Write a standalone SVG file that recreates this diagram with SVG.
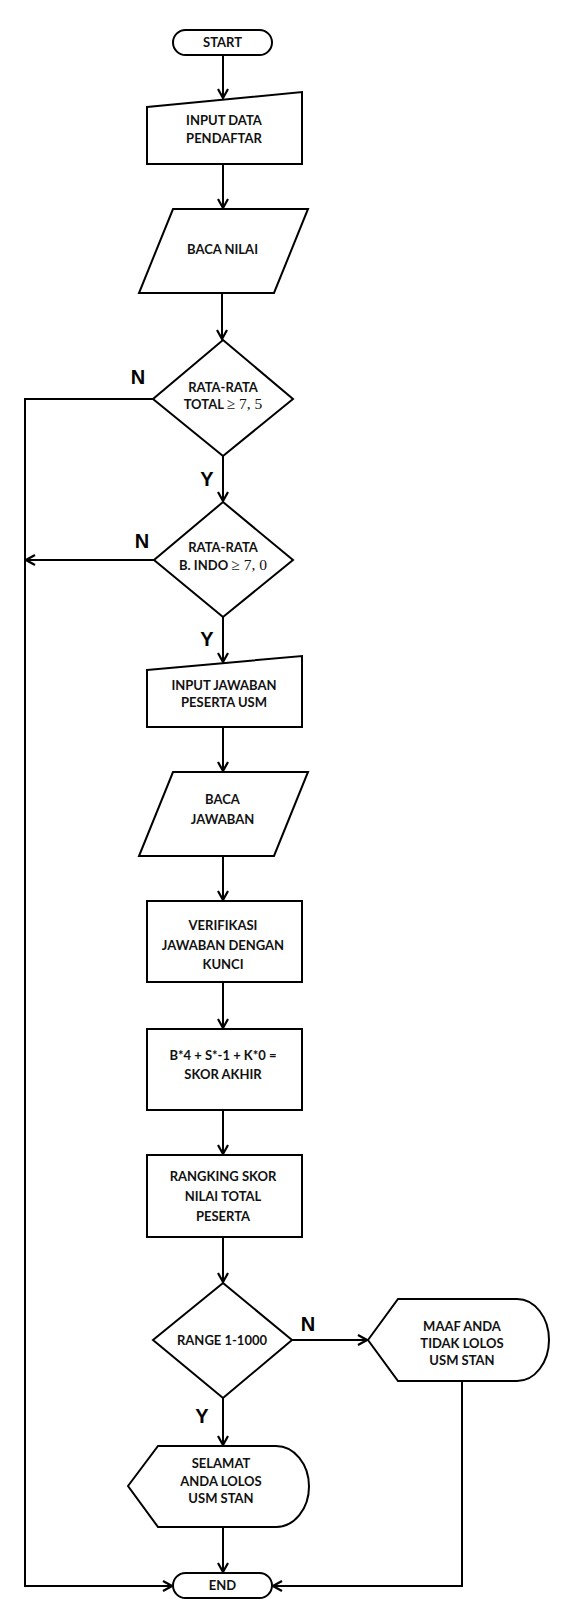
<svg xmlns="http://www.w3.org/2000/svg" width="574" height="1600" viewBox="0 0 574 1600">
<defs>
<marker id="arr" markerUnits="userSpaceOnUse" markerWidth="14" markerHeight="14" viewBox="-12 -7 14 14" refX="0" refY="0" orient="auto">
<path d="M-9,-5 L0,0 L-9,5" fill="none" stroke="#000" stroke-width="2.2"/>
</marker>
</defs>
<style>
.s{fill:#fff;stroke:#000;stroke-width:2}
.c{fill:none;stroke:#000;stroke-width:2}
.t{font-family:Lato,"Liberation Sans",sans-serif;font-weight:bold;font-size:13px;fill:#111;text-anchor:middle}
.m{font-family:"Liberation Serif","DejaVu Serif",serif;font-weight:normal;font-size:15.5px}
.l{font-family:"Liberation Sans",Arial,sans-serif;font-weight:bold;font-size:20px;fill:#000;text-anchor:middle}
</style>
<rect width="574" height="1600" fill="#fff"/>
<g id="connectors">
<path class="c" d="M223,55 V98" marker-end="url(#arr)"/>
<path class="c" d="M223,164 V208" marker-end="url(#arr)"/>
<path class="c" d="M222,293 V339" marker-end="url(#arr)"/>
<path class="c" d="M223,456 V501" marker-end="url(#arr)"/>
<path class="c" d="M223,617 V662" marker-end="url(#arr)"/>
<path class="c" d="M223,727 V771" marker-end="url(#arr)"/>
<path class="c" d="M223,856 V900" marker-end="url(#arr)"/>
<path class="c" d="M223,982 V1028" marker-end="url(#arr)"/>
<path class="c" d="M223,1110 V1154" marker-end="url(#arr)"/>
<path class="c" d="M223,1237 V1282" marker-end="url(#arr)"/>
<path class="c" d="M223,1398 V1445" marker-end="url(#arr)"/>
<path class="c" d="M223,1527 V1572" marker-end="url(#arr)"/>
<path class="c" d="M292,1340 H367" marker-end="url(#arr)"/>
<path class="c" d="M462,1381 V1586 H273" marker-end="url(#arr)"/>
<path class="c" d="M153,399 H25 V1586 H172" marker-end="url(#arr)"/>
<path class="c" d="M154,560 H26" marker-end="url(#arr)"/>
<text class="l" x="138" y="384">N</text>
<text class="l" x="142" y="548">N</text>
<text class="l" x="207" y="486">Y</text>
<text class="l" x="207" y="646">Y</text>
<text class="l" x="308" y="1331">N</text>
<text class="l" x="202" y="1423">Y</text>
</g>
<g id="start">
<rect class="s" x="173" y="30" width="99" height="25" rx="12.5"/>
<text class="t" x="222.5" y="47">START</text>
</g>
<g id="input-data">
<path class="s" d="M147,107 L302,92 V164 H147 Z"/>
<text class="t" x="224" y="125">INPUT DATA</text>
<text class="t" x="224" y="143">PENDAFTAR</text>
</g>
<g id="baca-nilai">
<path class="s" d="M173,209 H308 L274,293 H139 Z"/>
<text class="t" x="222.5" y="254">BACA NILAI</text>
</g>
<g id="cek-total">
<path class="s" d="M223,340 L293,399 L223,456 L153,399 Z"/>
<text class="t" x="223" y="392">RATA-RATA</text>
<text class="t" x="223" y="409">TOTAL <tspan class="m">≥ 7, 5</tspan></text>
</g>
<g id="cek-indo">
<path class="s" d="M223,502 L293,560 L223,617 L154,560 Z"/>
<text class="t" x="223" y="552">RATA-RATA</text>
<text class="t" x="223" y="570">B. INDO <tspan class="m">≥ 7, 0</tspan></text>
</g>
<g id="input-jawaban">
<path class="s" d="M147,670 L302,656 V727 H147 Z"/>
<text class="t" x="224" y="690">INPUT JAWABAN</text>
<text class="t" x="224" y="707">PESERTA USM</text>
</g>
<g id="baca-jawaban">
<path class="s" d="M173,772 H308 L274,856 H139 Z"/>
<text class="t" x="222.5" y="804">BACA</text>
<text class="t" x="222.5" y="824">JAWABAN</text>
</g>
<g id="verifikasi">
<rect class="s" x="147" y="901" width="155" height="81"/>
<text class="t" x="223" y="930">VERIFIKASI</text>
<text class="t" x="223" y="950">JAWABAN DENGAN</text>
<text class="t" x="223" y="969">KUNCI</text>
</g>
<g id="skor">
<rect class="s" x="147" y="1029" width="155" height="81"/>
<text class="t" x="223" y="1060">B*4 + S*-1 + K*0 =</text>
<text class="t" x="223" y="1079">SKOR AKHIR</text>
</g>
<g id="rangking">
<rect class="s" x="147" y="1155" width="155" height="82"/>
<text class="t" x="223" y="1181">RANGKING SKOR</text>
<text class="t" x="223" y="1201">NILAI TOTAL</text>
<text class="t" x="223" y="1221">PESERTA</text>
</g>
<g id="range">
<path class="s" d="M223,1283 L292,1340 L223,1398 L153,1340 Z"/>
<text class="t" x="222" y="1345">RANGE 1-1000</text>
</g>
<g id="tidak-lolos">
<path class="s" d="M368,1340 L398,1299 H517 A32,41 0 0 1 517,1381 H398 Z"/>
<text class="t" x="462" y="1331">MAAF ANDA</text>
<text class="t" x="462" y="1348">TIDAK LOLOS</text>
<text class="t" x="462" y="1365">USM STAN</text>
</g>
<g id="lolos">
<path class="s" d="M128,1486 L158,1446 H276 A33,40.5 0 0 1 276,1527 H158 Z"/>
<text class="t" x="221" y="1468">SELAMAT</text>
<text class="t" x="221" y="1486">ANDA LOLOS</text>
<text class="t" x="221" y="1503">USM STAN</text>
</g>
<g id="end">
<rect class="s" x="173" y="1573" width="99" height="25" rx="12.5"/>
<text class="t" x="222.5" y="1590">END</text>
</g>
</svg>
